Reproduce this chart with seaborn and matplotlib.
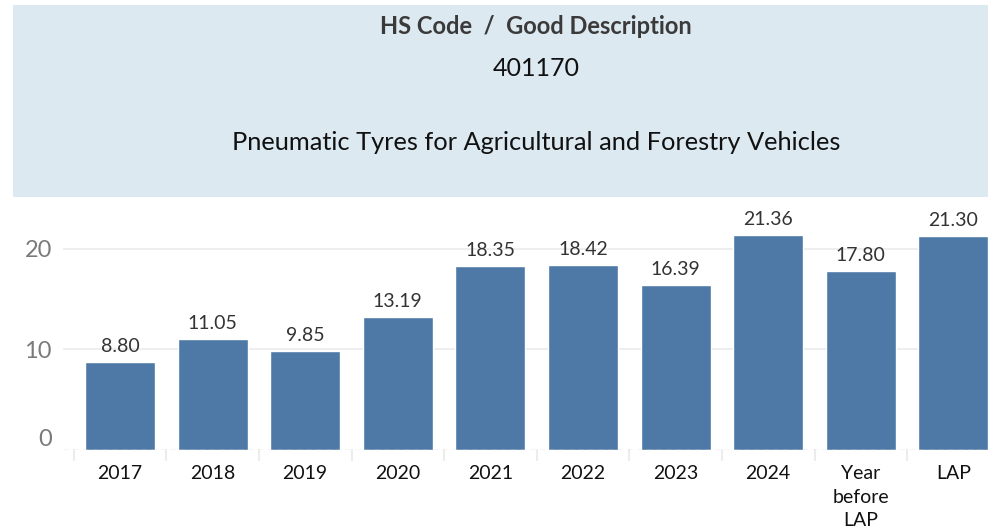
import pandas as pd
import numpy as np
import matplotlib
matplotlib.use("Agg")
import matplotlib.pyplot as plt
import seaborn as sns
from matplotlib.patches import Rectangle

# chart data
categories = ["2017", "2018", "2019", "2020", "2021", "2022", "2023", "2024",
              "Year\nbefore\nLAP", "LAP"]
values = [8.80, 11.05, 9.85, 13.19, 18.35, 18.42, 16.39, 21.36, 17.80, 21.30]
y_ticks = [0, 10, 20]

sns.set_style("white")
plt.rcParams["font.family"] = ["Lato", "DejaVu Sans"]

W, H = 989, 531
fig = plt.figure(figsize=(W / 100, H / 100), dpi=100)

# header panel
fig.patches.append(Rectangle((13 / W, 1 - 197 / H), (988 - 13) / W, (197 - 5) / H,
                             transform=fig.transFigure, facecolor="#dce9f0",
                             edgecolor="none", zorder=0))
fig.text(536 / W, 1 - 27 / H, "HS Code  /  Good Description", ha="center", va="center",
         fontsize=17, fontweight="bold", color="#3a3a3a")
fig.text(536 / W, 1 - 68 / H, "401170", ha="center", va="center",
         fontsize=18, color="#111111")
fig.text(536 / W, 1 - 142 / H, "Pneumatic Tyres for Agricultural and Forestry Vehicles",
         ha="center", va="center", fontsize=18.3, color="#111111")

# plot area
left, right, top, bottom = 63, 989, 200, 450
ax = fig.add_axes([left / W, 1 - bottom / H, (right - left) / W, (bottom - top) / H])

df = pd.DataFrame({"cat": categories, "val": values})
sns.barplot(data=df, x="cat", y="val", color="#4e79a7", width=0.756,
            saturation=1, ax=ax, zorder=2)

step = 92.6
ax.set_xlim(-(120 - left) / step, (right - 120) / step)
ax.set_ylim(0, (bottom - top) / 10.05)

for i, v in enumerate(values):
    ax.text(i, v + 0.7, f"{v:.2f}", ha="center", va="bottom", fontsize=14, color="#333333")

ax.set_yticks(y_ticks)
ax.set_yticklabels([str(t) for t in y_ticks], fontsize=17, color="#7a7a7a")
ax.get_yticklabels()[0].set_va("bottom")
ax.tick_params(axis="y", length=0, pad=8)
ax.tick_params(axis="x", length=0, pad=11)
for lab in ax.get_xticklabels():
    lab.set_fontsize(14)
    lab.set_color("#111111")
    lab.set_va("top")
    lab.set_linespacing(1.45)

for t in y_ticks[1:]:
    ax.axhline(t, color="#ebebeb", lw=1.2, zorder=1)
ax.axhline(0, color="#cccccc", lw=1, ls=(0, (4, 3)), zorder=3)

# short category separators below the axis
for b in np.arange(-0.5, len(categories), 1.0):
    ax.plot([b, b], [0, -1.0], color="#ececec", lw=1.5, clip_on=False)

ax.set_xlabel("")
ax.set_ylabel("")
sns.despine(ax=ax, left=True, bottom=True)

fig.savefig("out.png", dpi=100)
